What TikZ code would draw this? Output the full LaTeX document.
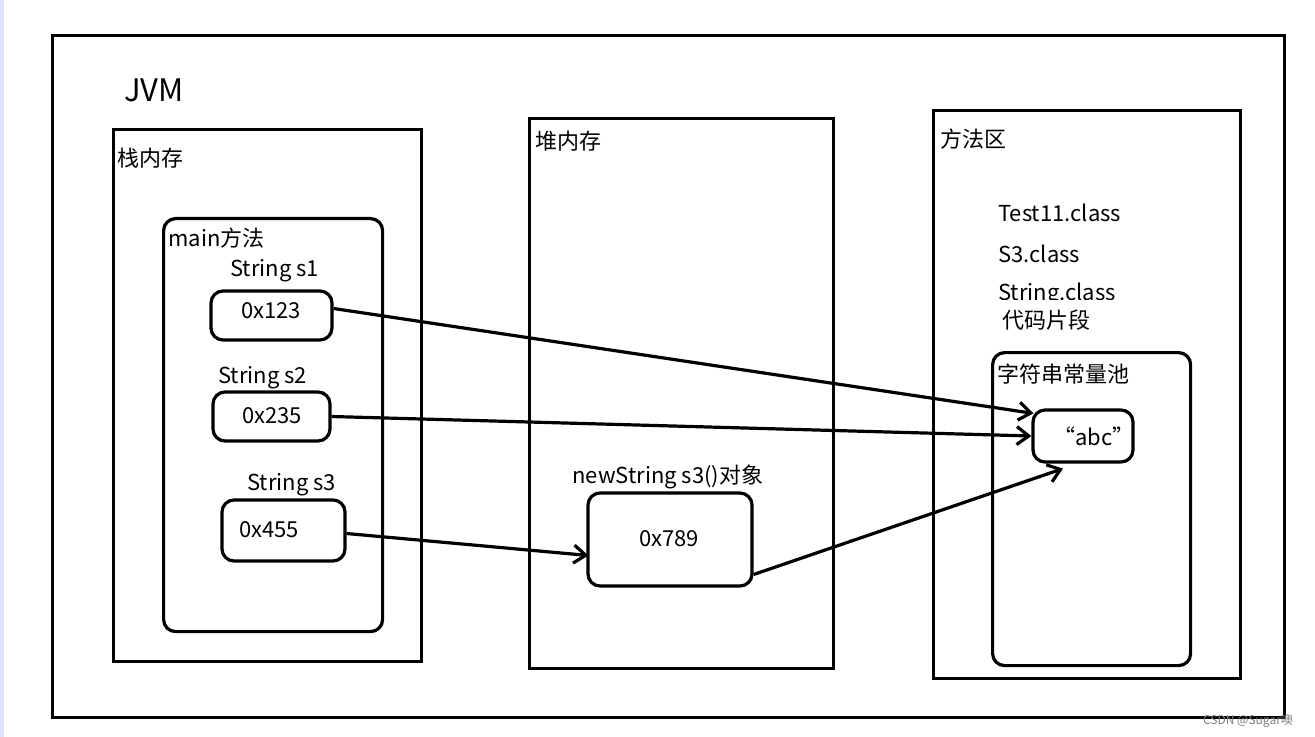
\documentclass[tikz,border=0pt]{standalone}
\usepackage{fontspec}
\setmainfont{Noto Sans CJK SC}
\usetikzlibrary{arrows.meta}
\begin{document}
\begin{tikzpicture}[x=0.5pt,y=-0.5pt,
 box/.style={draw,line width=1.6pt},
 rbox/.style={draw,line width=1.6pt,rounded corners=6pt},
 lab/.style={anchor=west,inner sep=0pt,font=\fontsize{11}{12}\selectfont},
 arr/.style={line width=1.6pt,-{Straight Barb[length=6pt,width=9pt]}}]
\useasboundingbox (0,0) rectangle (1315,737);
\fill[blue!12] (0,0) rectangle (4,737);
\node[box,minimum width=616pt,minimum height=341pt,anchor=north west,inner sep=0pt] (jvm) at (51,34) {};
\node[lab,font=\fontsize{15.5}{18}\selectfont] (jvmt) at (124,90) {JVM};
\node[box,minimum width=154pt,minimum height=266pt,anchor=north west,inner sep=0pt] (stack) at (112,128) {};
\node[lab] (stackt) at (117,158) {栈内存};
\node[rbox,minimum width=109.5pt,minimum height=206.5pt,anchor=north west,inner sep=0pt] (main) at (162,217) {};
\node[lab] (maint) at (168,238) {main方法};
\node[lab] (s1t) at (230,271) {String s1};
\node[rbox,minimum width=60.5pt,minimum height=24.5pt,inner sep=0pt] (b1) at (271.5,315.5) {};
\node[lab] (b1t) at (241,311) {0x123};
\node[lab] (s2t) at (218,378) {String s2};
\node[rbox,minimum width=58.5pt,minimum height=24.5pt,inner sep=0pt] (b2) at (271.5,416.5) {};
\node[lab] (b2t) at (242,416) {0x235};
\node[lab] (s3t) at (247,485) {String s3};
\node[rbox,minimum width=61.5pt,minimum height=30.5pt,inner sep=0pt] (b3) at (283.5,530.5) {};
\node[lab] (b3t) at (239,530) {0x455};
\node[box,minimum width=152pt,minimum height=275pt,anchor=north west,inner sep=0pt] (heap) at (528,117) {};
\node[lab] (heapt) at (535,141) {堆内存};
\node[lab] (newt) at (572,477) {newString s3()对象};
\node[rbox,minimum width=82pt,minimum height=46.5pt,inner sep=0pt] (b4) at (670,539.5) {};
\node[lab] (b4t) at (639,539) {0x789};
\node[box,minimum width=153.5pt,minimum height=284pt,anchor=north west,inner sep=0pt] (meth) at (932,109) {};
\node[lab] (metht) at (940,139) {方法区};
\node[lab] (c1) at (998,213) {Test11.class};
\node[lab] (c2) at (998,254) {S3.class};
\begin{scope}
\clip (990,280) rectangle (1200,300);
\node[lab] (c3) at (998,294) {String.class};
\end{scope}
\node[lab] (c4) at (1002,320) {代码片段};
\node[rbox,minimum width=99pt,minimum height=156.5pt,anchor=north west,inner sep=0pt] (pool) at (991,351) {};
\node[lab] (poolt) at (997,374) {字符串常量池};
\node[rbox,minimum width=50pt,minimum height=26pt,inner sep=0pt] (abc) at (1083,436) {};
\node[lab] (abct) at (1053,436) {“abc”};
\draw[arr] ([shift={(0,-7)}]b1.east) -- ([shift={(2,5)}]abc.north west);
\draw[arr] (b2.east) -- (abc.west);
\draw[arr] ([shift={(0,3)}]b3.east) -- ([shift={(2,16)}]b4.west);
\draw[arr] ([shift={(0,35)}]b4.east) -- ([shift={(-20,5)}]abc.south);
\node[anchor=east,text=gray,font=\fontsize{6}{7}\selectfont] (wm) at (1300,721) {CSDN @Sugar噢};
\end{tikzpicture}
\end{document}
